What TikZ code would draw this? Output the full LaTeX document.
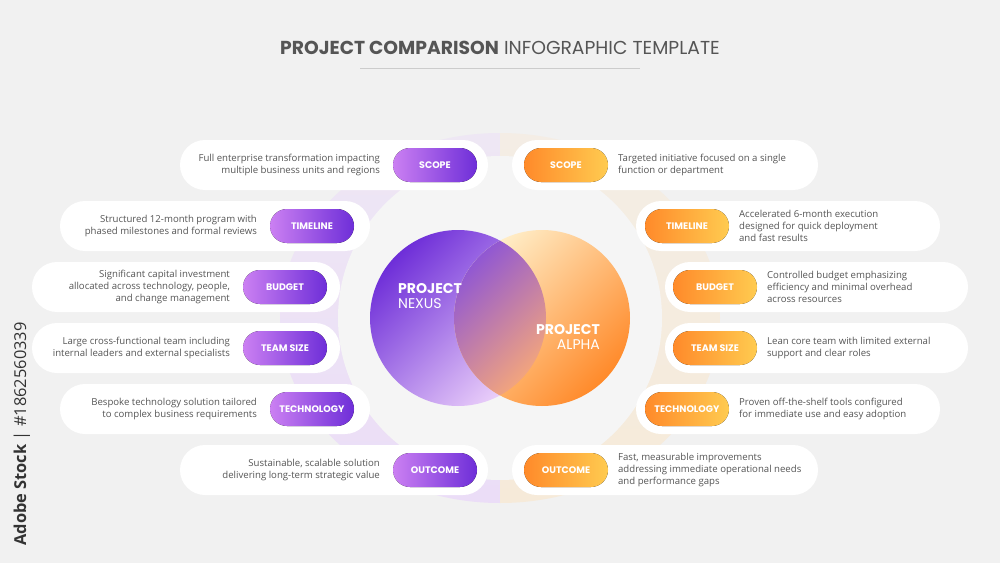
\documentclass[tikz,border=0pt]{standalone}
\usepackage{fontspec}
\setmainfont{Open Sans}
\newfontfamily\pop{Poppins}
\definecolor{bg}{HTML}{F1F1F1}
\definecolor{txt}{HTML}{555555}
\definecolor{pD}{HTML}{6E2ED8}
\definecolor{pL}{HTML}{CB80F2}
\definecolor{oD}{HTML}{FF8A2A}
\definecolor{oL}{HTML}{FFCB50}
\definecolor{lav}{HTML}{EBDDF7}
\definecolor{pch}{HTML}{F6EAD9}
\begin{document}
\begin{tikzpicture}[x=0.03cm,y=-0.03cm,
  ppill/.style={rounded corners=17*0.03cm,left color=pL,right color=pD,draw=none},
  opill/.style={rounded corners=17*0.03cm,left color=oD,right color=oL,draw=none},
  plab/.style={text=white,font=\pop\bfseries\fontsize{8.1}{9}\selectfont},
  ltxt/.style={text=txt,font=\fontsize{8.2}{10}\selectfont,align=right,anchor=east},
  rtxt/.style={text=txt,font=\fontsize{8.2}{10}\selectfont,align=left,anchor=west}]
\fill[bg] (0,0) rectangle (1000,563);
\useasboundingbox (0,0) rectangle (1000,563);
% title
\node (title) at (500,48) {\pop\fontsize{16}{18}\selectfont\color{txt}\textbf{PROJECT COMPARISON} INFOGRAPHIC TEMPLATE};
\draw[black!20] (360,68) -- (640,68);
% back shapes
\begin{scope}
\clip (0,0) rectangle (500,563);
\shade[top color=lav!50!bg, bottom color=lav] (500,318) ellipse[x radius=220, y radius=185];
\end{scope}
\begin{scope}
\clip (500,0) rectangle (1000,563);
\shade[top color=pch!50!bg, bottom color=pch] (500,318) ellipse[x radius=220, y radius=185];
\end{scope}
\fill[black!4] (500,318) circle[radius=162];
% circles
\shade[top color=pD, bottom color=pL!35!white, shading angle=45] (458,318) circle[radius=88];
\shade[top color=oL!30!white, bottom color=oD, shading angle=45] (542,318) circle[radius=88];
\begin{scope}
\clip (458,318) circle[radius=88];
\clip (542,318) circle[radius=88];
\shade[top color=pD!85!white, bottom color=oD!70!white!90!pink, shading angle=45] (440,230) rectangle (560,407);
\end{scope}
\node[anchor=west,text=white,align=left,font=\pop\fontsize{12}{13.5}\selectfont] (nexus) at (394,296) {\textbf{PROJECT}\\NEXUS};
\node[anchor=east,text=white,align=right,font=\pop\fontsize{12}{13.5}\selectfont] (alpha) at (604,337) {\textbf{PROJECT}\\ALPHA};
% left rows
\foreach \y/\a/\b/\p/\lab/\t in {
 165/180/488/393/SCOPE/{Full enterprise transformation impacting\\multiple business units and regions},
 226/60/370/270/TIMELINE/{Structured 12-month program with\\phased milestones and formal reviews},
 287/32/340/243/BUDGET/{Significant capital investment\\allocated across technology, people,\\and change management},
 348/32/340/243/TEAM SIZE/{Large cross-functional team including\\internal leaders and external specialists},
 409/60/370/270/TECHNOLOGY/{Bespoke technology solution tailored\\to complex business requirements},
 470/180/488/393/OUTCOME/{Sustainable, scalable solution\\delivering long-term strategic value}}{
 \fill[white,rounded corners=25*0.03cm] (\a,\y-25) rectangle (\b,\y+25);
 \fill[ppill] (\p,\y-17) rectangle (\p+84,\y+17);
 \node[plab] at (\p+42,\y) {\lab};
 \node[ltxt] at (\p-9,\y) {\t};
}
% right rows
\foreach \y/\a/\b/\p/\lab/\t in {
 165/512/818/524/SCOPE/{Targeted initiative focused on a single\\function or department},
 226/636/940/645/TIMELINE/{Accelerated 6-month execution\\designed for quick deployment\\and fast results},
 287/665/968/673/BUDGET/{Controlled budget emphasizing\\efficiency and minimal overhead\\across resources},
 348/665/968/673/TEAM SIZE/{Lean core team with limited external\\support and clear roles},
 409/636/940/645/TECHNOLOGY/{Proven off-the-shelf tools configured\\for immediate use and easy adoption},
 470/512/818/524/OUTCOME/{Fast, measurable improvements\\addressing immediate operational needs\\and performance gaps}}{
 \fill[white,rounded corners=25*0.03cm] (\a,\y-25) rectangle (\b,\y+25);
 \fill[opill] (\p,\y-17) rectangle (\p+84,\y+17);
 \node[plab] at (\p+42,\y) {\lab};
 \node[rtxt] at (\p+90,\y) {\t};
}
\node[rotate=90,text=black!80,font=\fontsize{14}{16}\selectfont] (wm) at (22,434) {\textbf{Adobe Stock} | \#1862560339};
\end{tikzpicture}
\end{document}
